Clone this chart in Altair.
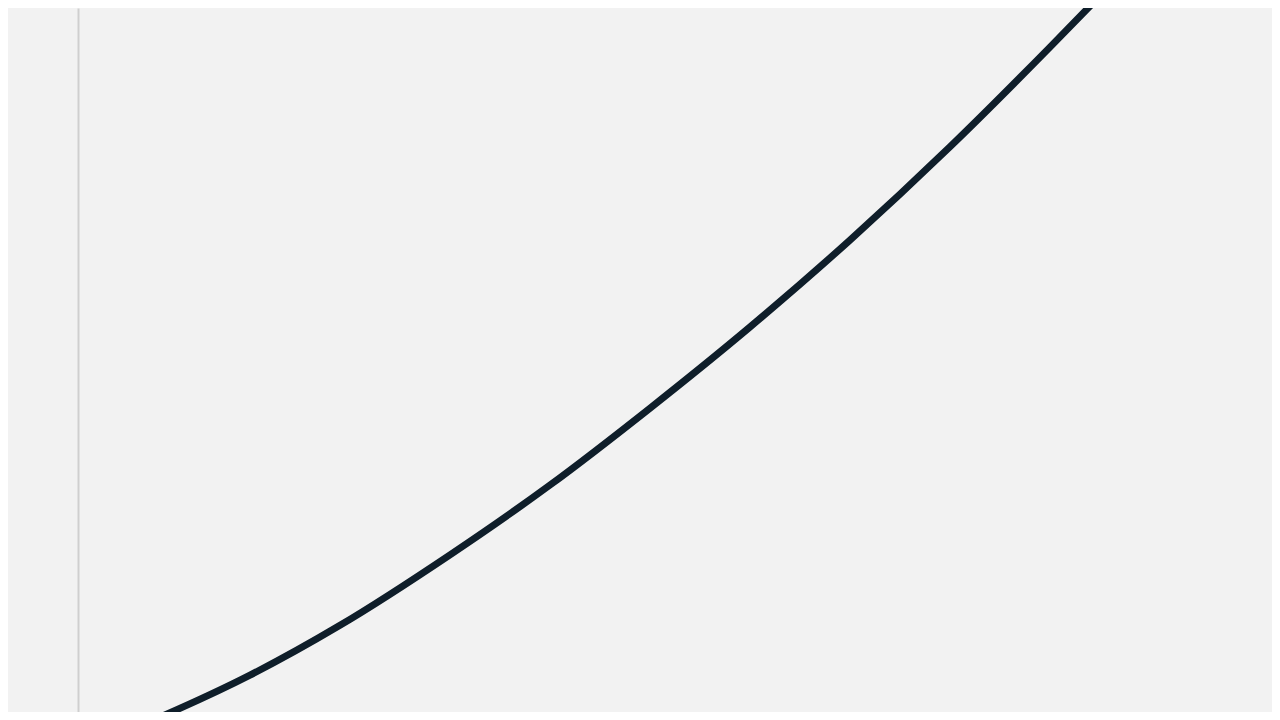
import altair as alt
import pandas as pd

# curve values
x_vals = [0.22, 0.82, 1.72, 2.62, 3.72, 4.72, 5.72, 6.72, 7.72, 8.72, 9.72, 10.15, 10.62]
y_vals = [-0.31, 0.04, 0.63, 1.33, 2.32, 3.30, 4.38, 5.52, 6.74, 8.05, 9.45, 10.07, 10.76]

df = pd.DataFrame({"x": x_vals, "y": y_vals})

line = alt.Chart(df).mark_line(
    color="#0f1e2a", strokeWidth=7, clip=True, interpolate="monotone"
).encode(
    x=alt.X("x:Q", scale=alt.Scale(domain=[0, 11.94], nice=False, zero=False),
            axis=alt.Axis(domain=False, ticks=False, labels=False, grid=False, title=None)),
    y=alt.Y("y:Q", scale=alt.Scale(domain=[0.112, 10], nice=False, zero=False),
            axis=alt.Axis(domain=True, domainColor="#cfcfcf", domainWidth=2,
                          ticks=False, labels=False, grid=False, title=None)),
)

chart = line.properties(
    width=1194, height=704,
    padding={"left": 70, "top": 0, "right": 0, "bottom": 0},
    autosize=alt.AutoSizeParams(type="none"),
    background="#f2f2f2",
).configure_view(stroke=None, fill="#f2f2f2")

chart.save("out.html", embed_options={"renderer": "svg", "actions": False})
